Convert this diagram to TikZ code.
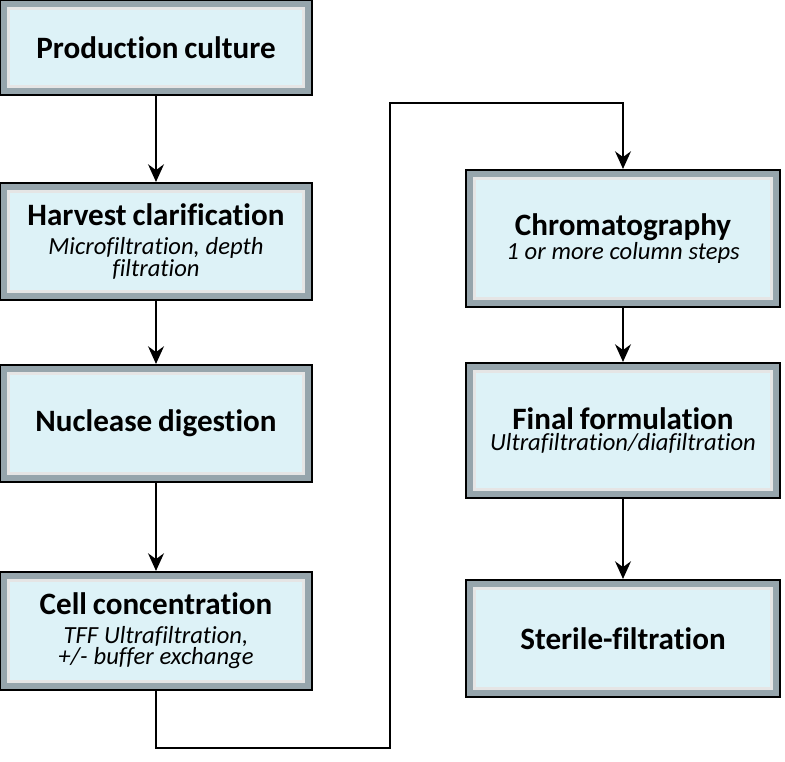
\documentclass[tikz,border=0pt]{standalone}
\usepackage{fontspec}
\setmainfont{Carlito}[Ligatures={NoCommon}]
\usetikzlibrary{positioning,calc,arrows.meta}
\definecolor{bevel}{RGB}{150,165,172}
\definecolor{inner}{RGB}{221,242,247}
\tikzset{
  stage/.style={draw=black, line width=1.2pt, fill=bevel, align=center,
    inner sep=6pt, text width=5.8cm,
    path picture={\fill[inner, draw=white!80!gray]
      ($(path picture bounding box.south west)+(0.17,0.17)$) rectangle
      ($(path picture bounding box.north east)+(-0.17,-0.17)$);}},
  flow/.style={-{Stealth[length=10pt,width=9pt]}, line width=1.3pt}
}
\newcommand{\ttl}[1]{{\fontsize{17.7}{21}\selectfont\bfseries #1}}
\newcommand{\stp}[2]{\ttl{#1}\\{\fontsize{14}{16.5}\selectfont\itshape #2}}
\begin{document}
\begin{tikzpicture}
\useasboundingbox (0,0) rectangle (15.7,-15.24);
\node[stage, minimum width=6.24cm, minimum height=1.9cm] (PC) at (3.12,-0.95) {\ttl{Production culture}};
\node[stage, minimum width=6.24cm, minimum height=2.34cm] (HC) at (3.12,-4.83) {\stp{Harvest clarification}{Microfiltration, depth\\filtration}};
\node[stage, minimum width=6.24cm, minimum height=2.34cm] (ND) at (3.12,-8.47) {\ttl{Nuclease digestion}};
\node[stage, minimum width=6.24cm, minimum height=2.36cm] (CC) at (3.12,-12.62) {\stp{Cell concentration}{TFF Ultrafiltration,\\+/- buffer exchange}};
\node[stage, minimum width=6.28cm, minimum height=2.74cm] (CH) at (12.46,-4.77) {\stp{Chromatography}{1 or more column steps}};
\node[stage, minimum width=6.28cm, minimum height=2.7cm] (FF) at (12.46,-8.61) {\stp{Final formulation}{Ultrafiltration/diafiltration}};
\node[stage, minimum width=6.28cm, minimum height=2.34cm] (SF) at (12.46,-12.77) {\ttl{Sterile-filtration}};
\coordinate (c1) at (3.12,-14.96);
\coordinate (c2) at (7.8,-14.96);
\coordinate (c3) at (7.8,-2.06);
\coordinate (c4) at (12.46,-2.06);
\draw[flow] (PC) -- (HC);
\draw[flow] (HC) -- (ND);
\draw[flow] (ND) -- (CC);
\draw[flow] (CC.south) -- (c1) -- (c2) -- (c3) -- (c4) -- (CH.north);
\draw[flow] (CH) -- (FF);
\draw[flow] (FF) -- (SF);
\end{tikzpicture}
\end{document}
